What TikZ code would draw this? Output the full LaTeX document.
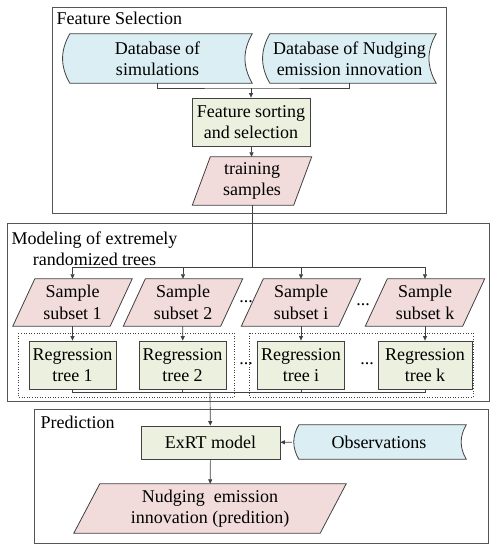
\documentclass[tikz,border=0pt]{standalone}
\usepackage{fontspec}
\setmainfont{Liberation Serif}
\usetikzlibrary{arrows.meta,backgrounds}

\definecolor{linegray}{HTML}{404040}
\definecolor{framegray}{HTML}{555555}
\definecolor{dbblue}{HTML}{DAEEF3}
\definecolor{iopink}{HTML}{F2DCDB}
\definecolor{procgreen}{HTML}{EBF1DE}

\tikzset{
	every node/.style={font=\fontsize{18}{21.5}\selectfont, text=black},
	frame/.style={draw=framegray, line width=0.8pt},
	group/.style={draw=linegray, line width=0.6pt, dotted},
	proc/.style={rectangle, draw=linegray, fill=procgreen, line width=0.8pt, inner sep=0pt, align=center},
	shapenode/.style={rectangle, inner sep=0pt, align=center},
	wire/.style={draw=linegray, line width=0.7pt},
	arr/.style={wire, -{Triangle[length=4.5pt,width=4pt]}},
}

% backgrounds for the data and in/out shapes
\newcommand\dbback[1]{%
	\path[draw=linegray, fill=dbblue, line width=0.8pt]
		([xshift=7pt]#1.north west) to[bend right=30] ([xshift=7pt]#1.south west)
		-- (#1.south east) to[bend left=30] (#1.north east) -- cycle;}
\newcommand\ioback[2]{%
	\path[draw=linegray, fill=iopink, line width=0.8pt]
		([xshift=#2]#1.north west) -- ([xshift=#2]#1.north east)
		-- ([xshift=-#2]#1.south east) -- ([xshift=-#2]#1.south west) -- cycle;}

\begin{document}
\begin{tikzpicture}[x=1pt, y=-1pt]
	\useasboundingbox (0,0) rectangle (499,550);

	% frames
	\draw[frame] (52,7) rectangle (446,213);
	\draw[frame] (7,223) rectangle (489,401);
	\draw[frame] (34,409) rectangle (488,543);
	\draw[group] (18,333) rectangle (234,397);
	\draw[group] (249,333) rectangle (473,397);

	\node[anchor=west] (fsel) at (53,18) {Feature Selection};
	\node[align=center] (modlab) at (94.5,248.5) {Modeling of extremely\\randomized trees};
	\node[anchor=west] (predlab) at (37,422) {Prediction};

	% feature selection
	\node[shapenode, minimum width=189pt, minimum height=49pt] (dbsim) at (157.5,58.5) {Database of\\simulations};
	\node[shapenode, minimum width=173pt, minimum height=49pt] (dbnud) at (349.5,58.5) {Database of Nudging\\emission innovation};
	\node[proc, minimum width=118pt, minimum height=48pt] (feat) at (251,122) {Feature sorting\\and selection};
	\node[shapenode, minimum width=101pt, minimum height=48pt] (train) at (252,181) {training\\samples};

	% extremely randomized trees
	\node[shapenode, minimum width=97pt, minimum height=47pt] (sub1) at (72.5,302.5) {Sample\\subset 1};
	\node[shapenode, minimum width=97pt, minimum height=47pt] (sub2) at (183,302.5) {Sample\\subset 2};
	\node[shapenode, minimum width=97pt, minimum height=47pt] (subi) at (301,302.5) {Sample\\subset i};
	\node[shapenode, minimum width=97pt, minimum height=47pt] (subk) at (425,302.5) {Sample\\subset k};
	\node (dots1) at (246,302) {...};
	\node (dots2) at (363,305) {...};

	\node[proc, minimum width=87pt, minimum height=48pt] (tree1) at (72.5,365) {Regression\\tree 1};
	\node[proc, minimum width=87pt, minimum height=48pt] (tree2) at (182.5,365) {Regression\\tree 2};
	\node[proc, minimum width=87pt, minimum height=48pt] (treei) at (301,365) {Regression\\tree i};
	\node[proc, minimum width=94pt, minimum height=48pt] (treek) at (425,365) {Regression\\tree k};
	\node (dots3) at (246,364) {...};
	\node (dots4) at (367,364) {...};

	% prediction
	\node[proc, minimum width=139pt, minimum height=33pt] (exrt) at (210.5,442.5) {ExRT model};
	\node[shapenode, minimum width=174pt, minimum height=34pt] (obs) at (379,442) {Observations};
	\node[shapenode, minimum width=246pt, minimum height=49pt] (pred) at (210,508.5) {Nudging~ emission\\innovation (predition)};

	\begin{scope}[on background layer]
		\dbback{dbsim}
		\dbback{dbnud}
		\dbback{obs}
		\ioback{train}{9pt}
		\ioback{sub1}{11pt}
		\ioback{sub2}{11pt}
		\ioback{subi}{11pt}
		\ioback{subk}{11pt}
		\ioback{pred}{13pt}
	\end{scope}

	% connectors
	\coordinate (dbjoin) at (251,88);
	\coordinate (split) at (252,267);
	\coordinate (merge) at (210,392);

	\draw[wire] (dbsim.south) |- (dbjoin) -| (dbnud.south);
	\draw[arr] (dbjoin) -- (feat);
	\draw[arr] (feat) -- (train);
	\draw[wire] (train) -- (split);
	\foreach \s in {1,2,i,k} {
		\draw[arr] (split) -| (sub\s.north);
		\draw[arr] (sub\s) -- (tree\s);
		\draw[wire] (tree\s.south) |- (merge);
	}
	\draw[arr] (merge) -- (exrt);
	\draw[arr] (obs) -- (exrt);
	\draw[arr] (exrt) -- (pred);
\end{tikzpicture}
\end{document}
